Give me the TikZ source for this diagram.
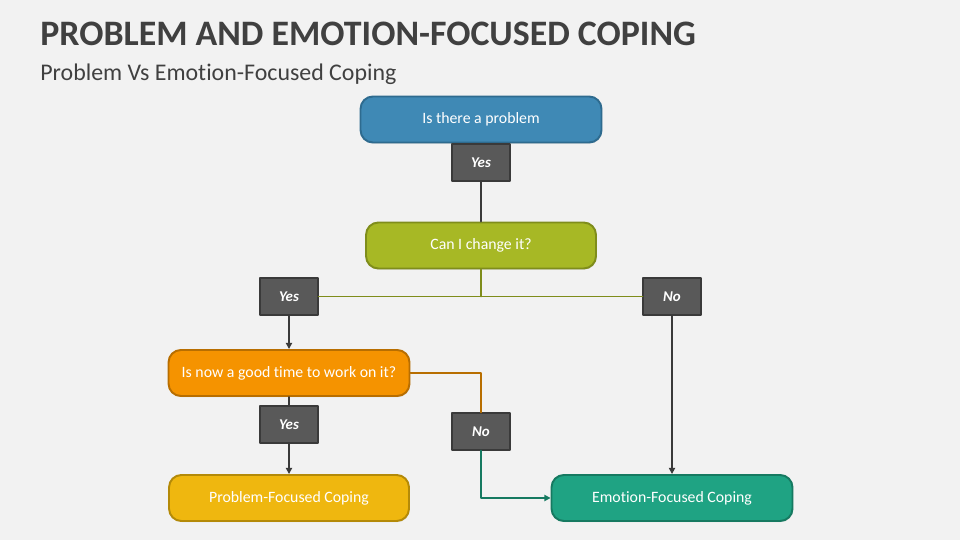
\documentclass[tikz,border=0pt]{standalone}
\usepackage{fontspec}
\setmainfont{Carlito}[Ligatures=NoCommon]
\usetikzlibrary{arrows.meta,shadows}
\definecolor{bgcol}{HTML}{F2F2F2}
\definecolor{titlecol}{HTML}{404040}
\definecolor{bluefill}{HTML}{3F89B5}
\definecolor{blueline}{HTML}{2E6B8F}
\definecolor{greenfill}{HTML}{A7B825}
\definecolor{greenline}{HTML}{7F8D1B}
\definecolor{orangefill}{HTML}{F59300}
\definecolor{orangeline}{HTML}{B86E00}
\definecolor{yellowfill}{HTML}{EFB70F}
\definecolor{yellowline}{HTML}{B48A08}
\definecolor{tealfill}{HTML}{1FA383}
\definecolor{tealline}{HTML}{167A61}
\definecolor{tagfill}{HTML}{595959}
\definecolor{tagline}{HTML}{3A3A3A}
\tikzset{
  question/.style={rounded corners=7pt,line width=1.1pt,inner sep=0pt,
    minimum height=0.92cm,text=white,font=\fontsize{9}{11}\selectfont,
    drop shadow={shadow xshift=0.4pt,shadow yshift=-0.6pt,opacity=0.25}},
  answer/.style={draw=tagline,fill=tagfill,line width=0.6pt,inner sep=0pt,
    minimum width=1.16cm,minimum height=0.74cm,text=white,
    font=\fontsize{8.5}{10}\selectfont\bfseries\itshape},
  link/.style={line width=0.9pt,draw=tagline},
  tip/.style={-{Triangle[length=3.5pt,width=3.5pt]}}
}
\begin{document}
\begin{tikzpicture}[line cap=round,line join=round,x=0.02cm,y=-0.02cm]
	\fill[bgcol] (0,0) rectangle (960,540);
	\node[anchor=base west,inner sep=0pt,text=titlecol,font=\fontsize{20.4}{24}\selectfont\bfseries] (title) at (40,46) {PROBLEM AND EMOTION-FOCUSED COPING};
	\node[anchor=base west,inner sep=0pt,text=titlecol,font=\fontsize{13.6}{16}\selectfont] (subtitle) at (40,81) {Problem Vs Emotion-Focused Coping};
	% question boxes
	\node[question,fill=bluefill,draw=blueline,minimum width=4.82cm] (problem) at (481,119.5) {Is there a problem};
	\node[question,fill=greenfill,draw=greenline,minimum width=4.6cm] (change) at (481,245.5) {Can I change it?};
	\node[question,fill=orangefill,draw=orangeline,minimum width=4.82cm] (goodtime) at (289,373) {Is now a good time to work on it?};
	\node[question,fill=yellowfill,draw=yellowline,minimum width=4.8cm] (pfc) at (289,498) {Problem-Focused Coping};
	\node[question,fill=tealfill,draw=tealline,minimum width=4.82cm] (efc) at (672,498) {Emotion-Focused Coping};
	% answers
	\node[answer,anchor=north] (yesA) at (problem.south) {Yes};
	\node[answer] (yesB) at (289,296.5) {Yes};
	\node[answer] (noB) at (672,296.5) {No};
	\node[answer] (yesC) at (289,424.5) {Yes};
	\node[answer] (noC) at (481,431.5) {No};
	\coordinate (split) at (481,296.5);
	% connectors
	\draw[link] (yesA) -- (change);
	\draw[link,draw=greenline] (change) -- (split);
	\draw[link,draw=greenline] (yesB) -- (noB);
	\draw[link,tip] (yesB) -- (goodtime);
	\draw[link,tip] (noB) -- (efc);
	\draw[link] (goodtime) -- (yesC);
	\draw[link,tip] (yesC) -- (pfc);
	\draw[link,draw=orangeline] (goodtime.east) -| (noC.north);
	\draw[link,draw=tealline,tip] (noC.south) |- (efc.west);
\end{tikzpicture}
\end{document}
